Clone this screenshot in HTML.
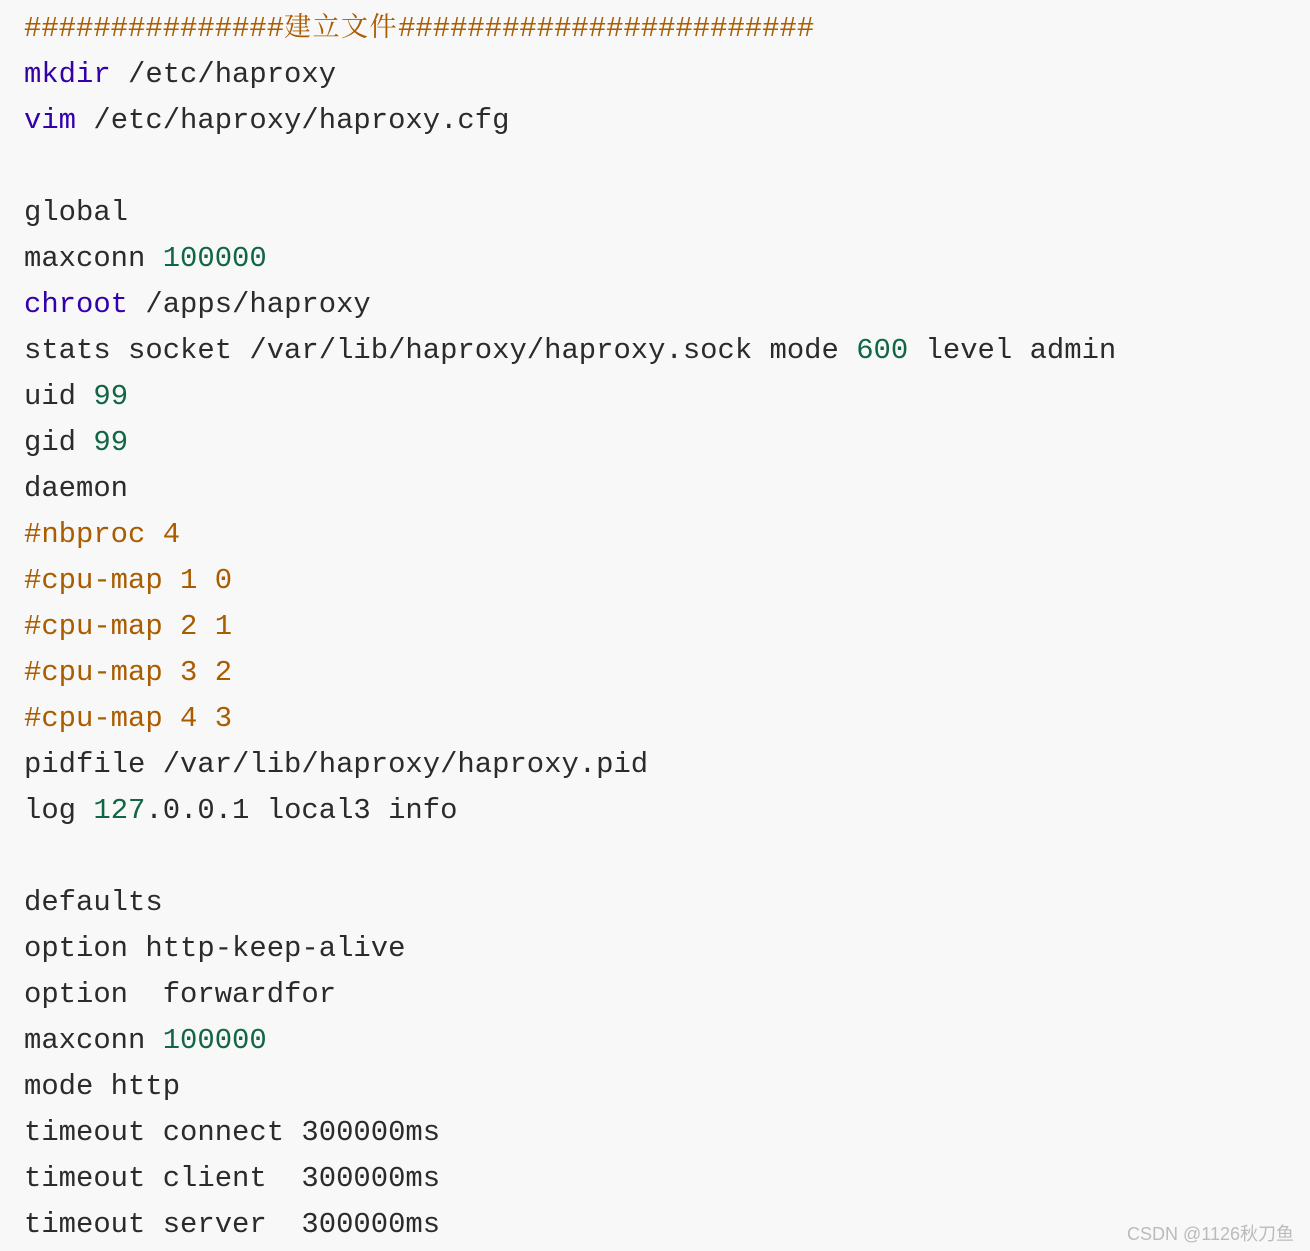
<!DOCTYPE html>
<html><head><meta charset="utf-8"><style>
html,body{margin:0;padding:0;background:#f8f8f8;width:1310px;height:1251px;overflow:hidden;}
pre{margin:0;position:absolute;left:24px;top:2px;font-family:"Liberation Mono","Noto Sans CJK SC",monospace;font-size:28.9px;line-height:46px;color:#2b2b2b;}
.c{color:#aa5d00}.k{color:#3300aa}.n{color:#116644}
.h{font-family:"Noto Serif CJK SC","Noto Sans CJK SC",serif;font-size:27px;letter-spacing:1.5px}
.wm{position:absolute;right:16px;top:1220px;font-family:"Liberation Sans","Noto Sans CJK SC",sans-serif;font-size:18px;color:#bbb;}
</style></head><body>
<pre><span class="c">###############<span class="h">建立文件</span>########################</span>
<span class="k">mkdir</span> /etc/haproxy
<span class="k">vim</span> /etc/haproxy/haproxy.cfg

global
maxconn <span class="n">100000</span>
<span class="k">chroot</span> /apps/haproxy
stats socket /var/lib/haproxy/haproxy.sock mode <span class="n">600</span> level admin
uid <span class="n">99</span>
gid <span class="n">99</span>
daemon
<span class="c">#nbproc 4</span>
<span class="c">#cpu-map 1 0</span>
<span class="c">#cpu-map 2 1</span>
<span class="c">#cpu-map 3 2</span>
<span class="c">#cpu-map 4 3</span>
pidfile /var/lib/haproxy/haproxy.pid
log <span class="n">127</span>.0.0.1 local3 info

defaults
option http-keep-alive
option  forwardfor
maxconn <span class="n">100000</span>
mode http
timeout connect 300000ms
timeout client  300000ms
timeout server  300000ms</pre>
<div class="wm">CSDN @1126秋刀鱼</div>
</body></html>
